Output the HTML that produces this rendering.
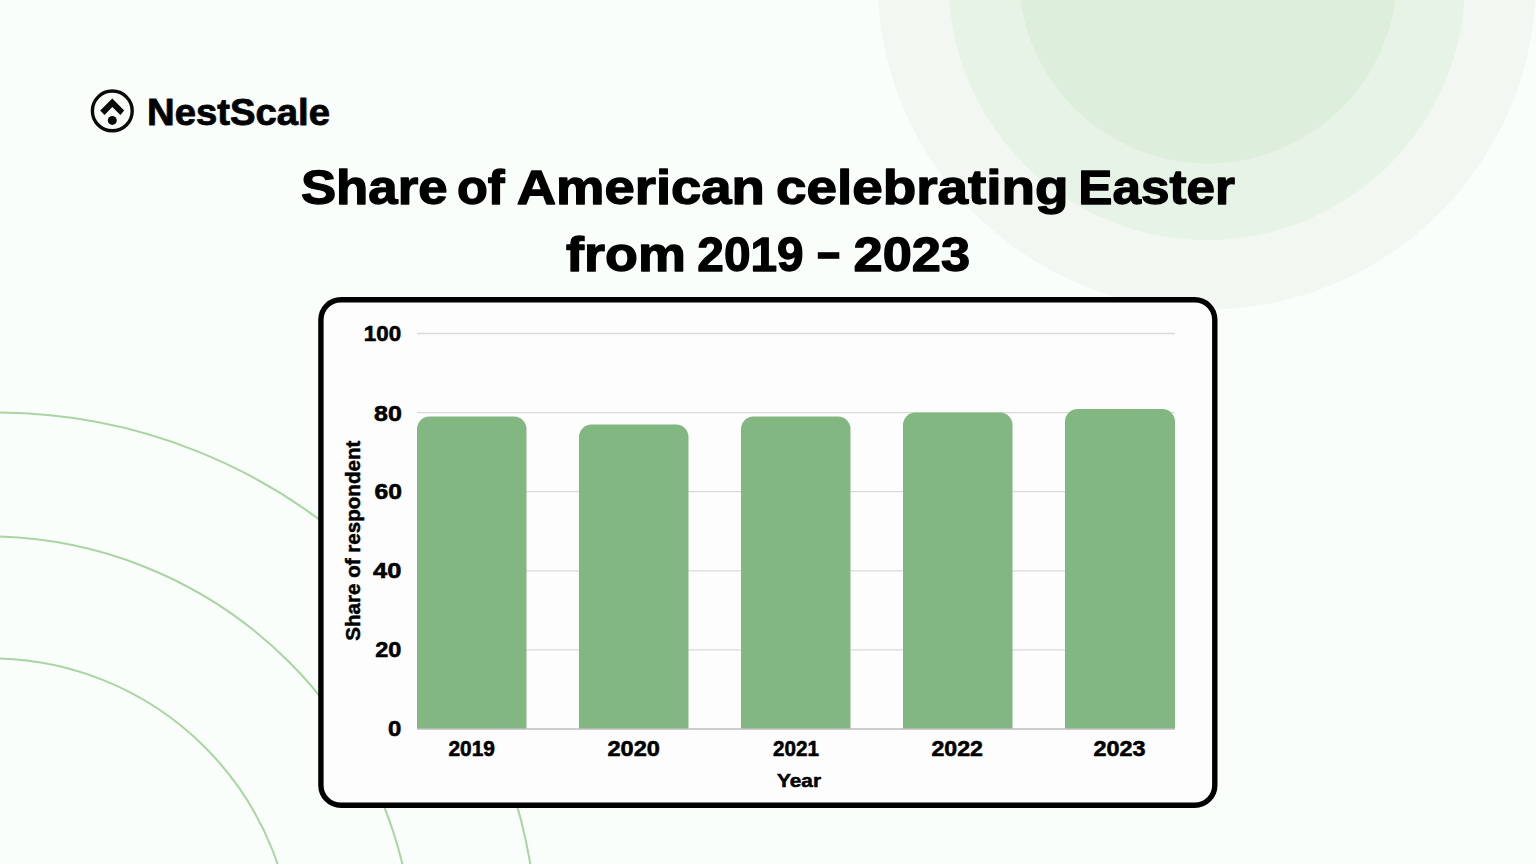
<!DOCTYPE html>
<html>
<head>
<meta charset="utf-8">
<style>
html,body{margin:0;padding:0;width:1536px;height:864px;overflow:hidden;background:#f9fefa;}
svg{display:block;}
text{font-family:"Liberation Sans",sans-serif;font-weight:bold;fill:#000;}
</style>
</head>
<body>
<svg width="1536" height="864" viewBox="0 0 1536 864">
  <rect x="0" y="0" width="1536" height="864" fill="#f9fefa"/>
  <circle cx="1206.8" cy="-19.8" r="329.4" fill="#f2f8f1"/>
  <circle cx="1206.9" cy="-18.3" r="258.4" fill="#e8f3e7"/>
  <circle cx="1207.9" cy="-25.9" r="189.3" fill="#ddeedc"/>
  <g fill="none" stroke="#a9d5a2" stroke-width="2">
    <circle cx="-9.5" cy="961.6" r="303.2"/>
    <circle cx="-13.8" cy="964.5" r="428.1"/>
    <circle cx="-3.9" cy="954.3" r="541.7"/>
  </g>
  <circle cx="112.3" cy="110.9" r="19.9" fill="none" stroke="#0a0a0a" stroke-width="3.4"/>
  <polygon points="112.3,98.4 124.2,110.5 120.4,114.9 112.3,107.1 104.5,114.9 100.2,110.6" fill="#0a0a0a"/>
  <circle cx="112.3" cy="120.4" r="4.5" fill="#0a0a0a"/>
  <rect x="817.8" y="252.2" width="21.5" height="6.6" fill="#000"/>
  <rect x="320.9" y="299.7" width="893.9" height="505.5" rx="20" ry="20" fill="#fdfdfd" stroke="#000" stroke-width="5.4"/>
  <g stroke="#d9d9d9" stroke-width="1.3">
    <line x1="417" y1="333.5" x2="1175" y2="333.5"/>
    <line x1="417" y1="412.6" x2="1175" y2="412.6"/>
    <line x1="417" y1="491.7" x2="1175" y2="491.7"/>
    <line x1="417" y1="570.8" x2="1175" y2="570.8"/>
    <line x1="417" y1="649.9" x2="1175" y2="649.9"/>
  </g>
  <g fill="#83b782">
    <path d="M417,729 V429 a12.5,12.5 0 0 1 12.5,-12.5 H514 a12.5,12.5 0 0 1 12.5,12.5 V729 Z"/>
    <path d="M579,729 V437 a12.5,12.5 0 0 1 12.5,-12.5 H676 a12.5,12.5 0 0 1 12.5,12.5 V729 Z"/>
    <path d="M741,729 V429 a12.5,12.5 0 0 1 12.5,-12.5 H838 a12.5,12.5 0 0 1 12.5,12.5 V729 Z"/>
    <path d="M903,729 V425 a12.5,12.5 0 0 1 12.5,-12.5 H1000 a12.5,12.5 0 0 1 12.5,12.5 V729 Z"/>
    <path d="M1065,729 V421.5 a12.5,12.5 0 0 1 12.5,-12.5 H1162.5 a12.5,12.5 0 0 1 12.5,12.5 V729 Z"/>
  </g>
  <line x1="417" y1="729" x2="1175" y2="729" stroke="#bdbdbd" stroke-width="1.5"/>
  <text x="147.00" y="124.8" font-size="37.6" fill="#0a0a0a" stroke="#0a0a0a" stroke-width="0.9" stroke-linejoin="round" textLength="183.00" lengthAdjust="spacingAndGlyphs">NestScale</text>
  <text x="300.90" y="204.4" font-size="47.8" stroke="#000" stroke-width="1.3" stroke-linejoin="round" textLength="146.60" lengthAdjust="spacingAndGlyphs">Share</text>
  <text x="457.00" y="204.4" font-size="47.8" stroke="#000" stroke-width="1.3" stroke-linejoin="round" textLength="47.70" lengthAdjust="spacingAndGlyphs">of</text>
  <text x="516.70" y="204.4" font-size="47.8" stroke="#000" stroke-width="1.3" stroke-linejoin="round" textLength="248.20" lengthAdjust="spacingAndGlyphs">American</text>
  <text x="775.90" y="204.4" font-size="47.8" stroke="#000" stroke-width="1.3" stroke-linejoin="round" textLength="292.60" lengthAdjust="spacingAndGlyphs">celebrating</text>
  <text x="1078.30" y="204.4" font-size="47.8" stroke="#000" stroke-width="1.3" stroke-linejoin="round" textLength="156.60" lengthAdjust="spacingAndGlyphs">Easter</text>
  <text x="566.10" y="271.1" font-size="48.6" stroke="#000" stroke-width="1.3" stroke-linejoin="round" textLength="119.80" lengthAdjust="spacingAndGlyphs">from</text>
  <text x="697.30" y="271.1" font-size="48.6" stroke="#000" stroke-width="1.3" stroke-linejoin="round" textLength="106.40" lengthAdjust="spacingAndGlyphs">2019</text>
  <text x="853.50" y="271.1" font-size="48.6" stroke="#000" stroke-width="1.3" stroke-linejoin="round" textLength="116.60" lengthAdjust="spacingAndGlyphs">2023</text>
  <text x="363.80" y="341.2" font-size="22.2" stroke="#000" stroke-width="0.6" stroke-linejoin="round" textLength="37.30" lengthAdjust="spacingAndGlyphs">100</text>
  <text x="374.10" y="420.6" font-size="22.2" stroke="#000" stroke-width="0.6" stroke-linejoin="round" textLength="27.80" lengthAdjust="spacingAndGlyphs">80</text>
  <text x="374.50" y="498.7" font-size="22.2" stroke="#000" stroke-width="0.6" stroke-linejoin="round" textLength="27.40" lengthAdjust="spacingAndGlyphs">60</text>
  <text x="373.10" y="577.6" font-size="22.2" stroke="#000" stroke-width="0.6" stroke-linejoin="round" textLength="28.30" lengthAdjust="spacingAndGlyphs">40</text>
  <text x="375.30" y="657.4" font-size="22.2" stroke="#000" stroke-width="0.6" stroke-linejoin="round" textLength="26.10" lengthAdjust="spacingAndGlyphs">20</text>
  <text x="388.10" y="736.4" font-size="22.2" stroke="#000" stroke-width="0.6" stroke-linejoin="round" textLength="13.30" lengthAdjust="spacingAndGlyphs">0</text>
  <text x="448.50" y="755.9" font-size="22.2" stroke="#000" stroke-width="0.6" stroke-linejoin="round" textLength="46.50" lengthAdjust="spacingAndGlyphs">2019</text>
  <text x="607.50" y="755.9" font-size="22.2" stroke="#000" stroke-width="0.6" stroke-linejoin="round" textLength="52.50" lengthAdjust="spacingAndGlyphs">2020</text>
  <text x="773.00" y="755.9" font-size="22.2" stroke="#000" stroke-width="0.6" stroke-linejoin="round" textLength="46.00" lengthAdjust="spacingAndGlyphs">2021</text>
  <text x="931.50" y="755.9" font-size="22.2" stroke="#000" stroke-width="0.6" stroke-linejoin="round" textLength="51.50" lengthAdjust="spacingAndGlyphs">2022</text>
  <text x="1093.50" y="755.9" font-size="22.2" stroke="#000" stroke-width="0.6" stroke-linejoin="round" textLength="52.00" lengthAdjust="spacingAndGlyphs">2023</text>
  <text x="777.00" y="787.1" font-size="18.4" stroke="#000" stroke-width="0.5" stroke-linejoin="round" textLength="44.00" lengthAdjust="spacingAndGlyphs">Year</text>
  <text transform="translate(360,640.7) rotate(-90)" x="0" y="0" font-size="20.4" stroke="#000" stroke-width="0.5" textLength="200" lengthAdjust="spacingAndGlyphs">Share of respondent</text>
</svg>
</body>
</html>
